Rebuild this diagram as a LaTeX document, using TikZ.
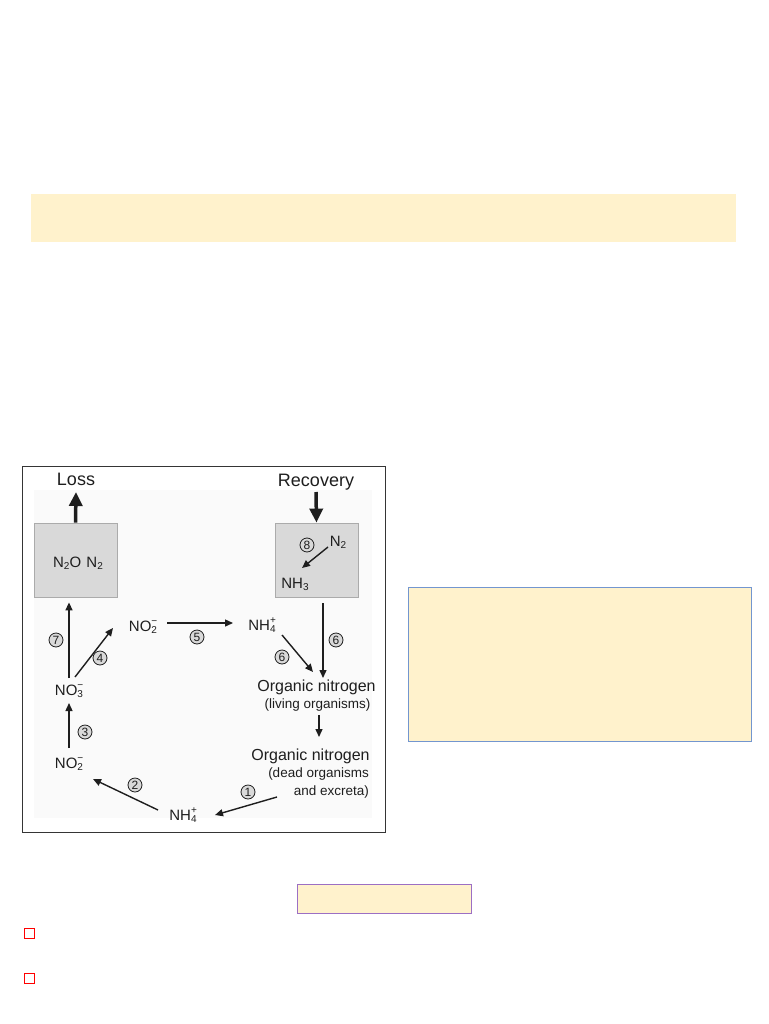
\documentclass[tikz,border=0pt]{standalone}
\usepackage{fontspec}
\setmainfont{Liberation Sans}
\usetikzlibrary{arrows.meta}
\definecolor{ylw}{HTML}{FFF2CC}
\definecolor{bluebd}{HTML}{7396CF}
\definecolor{purpbd}{HTML}{9C6FC4}
\definecolor{boxfill}{HTML}{D9D9D9}
\definecolor{boxbd}{HTML}{ABABAB}
\definecolor{ink}{HTML}{1E1E1E}
\newcommand\chsub[1]{\raisebox{-0.35ex}{\fontsize{10}{10}\selectfont #1}}
\newcommand\chion[3]{#1\makebox[0pt][l]{\raisebox{0.8ex}{\fontsize{10}{10}\selectfont #3}}\raisebox{-0.35ex}{\fontsize{10}{10}\selectfont #2}}
\begin{document}
\begin{tikzpicture}[x=1pt,y=-1pt,
  big/.style={inner sep=0pt,anchor=base,text=ink,font=\fontsize{18}{20}\selectfont},
  chem/.style={inner sep=0pt,anchor=base,text=ink,font=\fontsize{15}{17}\selectfont},
  orgl/.style={inner sep=0pt,anchor=base,text=ink,font=\fontsize{16}{18}\selectfont},
  small/.style={inner sep=0pt,anchor=base,text=ink,font=\fontsize{13.5}{15}\selectfont},
  num/.style={circle,draw=ink,line width=0.8pt,fill=gray!30,minimum size=14pt,inner sep=0pt,text=ink,font=\fontsize{12}{12}\selectfont},
  gbox/.style={draw=boxbd,fill=boxfill,line width=0.8pt,minimum width=83pt,minimum height=74pt,inner sep=0pt},
  arr/.style={draw=ink,line width=1.4pt,-{Triangle[length=8pt,width=7pt]}},
  fat/.style={draw=ink,line width=3.5pt,-{Triangle[length=14pt,width=13pt]}},
  bullet/.style={draw=red,line width=1.5pt,minimum size=10pt,inner sep=0pt}
]
\useasboundingbox (0,0) rectangle (768,1024);
% yellow bands and boxes
\node[fill=ylw,minimum width=705pt,minimum height=48pt,inner sep=0pt] (band) at (383.5,218) {};
\node[fill=ylw,draw=bluebd,line width=0.9pt,minimum width=343pt,minimum height=154pt,inner sep=0pt] (note) at (579.5,664) {};
\node[fill=ylw,draw=purpbd,line width=0.9pt,minimum width=174pt,minimum height=29pt,inner sep=0pt] (cap) at (384,898.5) {};
% bullets
\node[bullet] (b1) at (29.5,933.5) {};
\node[bullet] (b2) at (29.5,978.5) {};
% diagram frame
\node[draw=ink!90,line width=1pt,minimum width=363pt,minimum height=366pt,inner sep=0pt] (frame) at (203.5,649) {};
\fill[gray!4] (34,490) rectangle (372,818);
% boxes
\node[gbox] (lbox) at (75.5,560) {};
\node[gbox] (rbox) at (316.5,560) {};
% texts
\node[big] (loss) at (76,485) {Loss};
\node[big] (recovery) at (316,486) {Recovery};
\node[chem] (n2o) at (78,567) {N\chsub{2}O\hspace{0.35em}N\chsub{2}};
\node[chem] (n2r) at (338,546) {N\chsub{2}};
\node[chem] (nh3) at (295,588) {NH\chsub{3}};
\node[chem] (no2T) at (143,631) {\chion{NO}{2}{−}};
\node[chem] (nh4T) at (262,630) {\chion{NH}{4}{+}};
\node[orgl] (org1) at (316.5,691) {Organic nitrogen};
\node[small] (living) at (317.5,708) {(living organisms)};
\node[orgl] (org2) at (310.5,760) {Organic nitrogen};
\node[small,anchor=base east] (dead) at (369,777) {(dead organisms};
\node[small,anchor=base east] (excreta) at (369,795) {and excreta)};
\node[chem] (nh4B) at (183,820) {\chion{NH}{4}{+}};
\node[chem] (no2L) at (69,768) {\chion{NO}{2}{−}};
\node[chem] (no3) at (69,695) {\chion{NO}{3}{−}};
% numbers
\node[num] (c7) at (56,640) {7};
\node[num] (c4) at (100,658) {4};
\node[num] (c5) at (197,637) {5};
\node[num] (c6a) at (282,657) {6};
\node[num] (c6b) at (336,640) {6};
\node[num] (c3) at (85,732) {3};
\node[num] (c2) at (135,785) {2};
\node[num] (c1) at (248,792) {1};
\node[num] (c8) at (307,545) {8};
% thick arrows
\draw[fat] (lbox.north) -- ([shift={(0,7)}]loss.base);
\draw[fat] ([shift={(0,6)}]recovery.base) -- (rbox.north);
% arrows
\draw[arr] ([shift={(-10,1)}]n2r.base) -- ([shift={(7,-20)}]nh3.base);
\draw[arr] ([shift={(0,-17)}]no3.base) -- ([shift={(-6.5,5)}]lbox.south);
\draw[arr] ([shift={(6,-18)}]no3.base) -- ([shift={(-30,-3)}]no2T.base);
\draw[arr] ([shift={(24,-8)}]no2T.base) -- ([shift={(-29,-7)}]nh4T.base);
\draw[arr] ([shift={(20,5)}]nh4T.base) -- ([shift={(-3.5,-19)}]org1.base);
\draw[arr] ([shift={(6.5,6)}]rbox.south) -- ([shift={(6.5,-13)}]org1.base);
\draw[arr] ([shift={(1.5,7)}]living.base) -- ([shift={(8.5,-23)}]org2.base);
\draw[arr] ([shift={(-92,2)}]excreta.base east) -- ([shift={(32,-5)}]nh4B.base);
\draw[arr] ([shift={(-25,-10)}]nh4B.base) -- ([shift={(24,11)}]no2L.base);
\draw[arr] ([shift={(0,-20)}]no2L.base) -- ([shift={(0,8)}]no3.base);
\end{tikzpicture}
\end{document}
